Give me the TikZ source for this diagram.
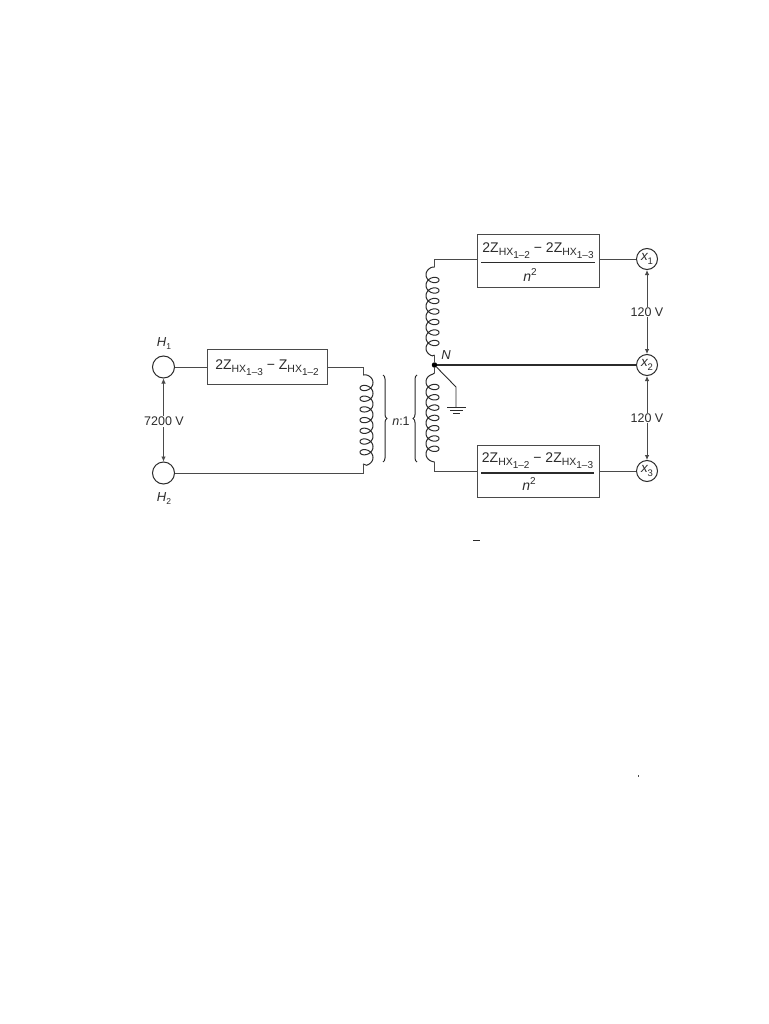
\documentclass[tikz,border=0pt]{standalone}
\usepackage{fontspec}
\setmainfont{Liberation Sans}
\usetikzlibrary{arrows.meta,decorations.pathreplacing}
\definecolor{ink}{HTML}{2B2B2B}
\definecolor{wire}{HTML}{4A4A4A}
\newcommand{\ZH}[1]{Z\raisebox{-3pt}{\fontsize{10.5}{11}\selectfont HX}\raisebox{-6pt}{\fontsize{10}{11}\selectfont #1}}
\newcommand{\xlab}[1]{\raisebox{-1pt}{\textit{x}\kern-0.5pt\raisebox{-3.5pt}{\fontsize{9.5}{10}\selectfont\upshape #1}}}
\tikzset{
  lbl/.style={text=ink,font=\fontsize{12.5}{14}\selectfont,inner sep=0pt},
  zlbl/.style={text=ink,font=\fontsize{14}{16}\selectfont,inner sep=0pt},
  wirel/.style={draw=wire,line width=0.9pt},
  term/.style={circle,draw=ink,line width=1pt,minimum size=#1,inner sep=0pt,text=ink,font=\fontsize{13.5}{15}\selectfont},
  imp/.style={draw=wire,line width=1pt,anchor=north west,inner sep=0pt},
  coilw/.style={draw=ink,line width=1pt},
  coilp/.style n args={4}{insert path={-- plot[domain=-90:2610,samples=300,smooth] ({#1+(#4)*6.5*cos(\x)},{#2+#3*((\x-180)/360)+5*sin(\x)})}},
  brc/.style={draw=ink,line width=1pt,decorate,decoration={brace,amplitude=4pt,raise=0pt}},
  volt/.style={draw=wire,line width=0.8pt,{Latex[length=5pt,width=4.5pt]}-{Latex[length=5pt,width=4.5pt]}},
  gnd/.style={draw=ink,line width=0.9pt}
}
\begin{document}
\begin{tikzpicture}[x=1pt,y=-1pt]
\useasboundingbox[fill=white] (0,0) rectangle (768,1024);
% terminals
\node[term=22pt] (H1) at (163.5,367) {};
\node[term=22pt] (H2) at (163.5,473) {};
\node[term=21pt] (X1) at (647,259) {\xlab{1}};
\node[term=21pt] (X2) at (647,365) {\xlab{2}};
\node[term=21pt] (X3) at (647,471) {\xlab{3}};
\node[lbl,font=\fontsize{13}{14}\selectfont\itshape] (LH1) at (164,344) {H\raisebox{-3pt}{\fontsize{8.5}{9}\selectfont\upshape 1}};
\node[lbl,font=\fontsize{13}{14}\selectfont\itshape] (LH2) at (164,499) {H\raisebox{-3pt}{\fontsize{8.5}{9}\selectfont\upshape 2}};
% impedance boxes
\node[imp,minimum width=120pt,minimum height=35pt] (ZP) at (207,349) {};
\node[zlbl] (ZPt) at (267,368) {2\ZH{1–3} − \ZH{1–2}};
\node[imp,minimum width=122pt,minimum height=53pt] (ZT) at (477,234) {};
\node[zlbl] (ZTn) at (538,251) {2\ZH{1–2} − 2\ZH{1–3}};
\node[zlbl] (ZTd) at (530,275) {\textit{n}\raisebox{5.5pt}{\fontsize{10}{11}\selectfont 2}};
\coordinate (FTa) at (481,262); \coordinate (FTb) at (595,262);
\draw[draw=ink,line width=0.9pt] (FTa) -- (FTb);
\node[imp,minimum width=121.5pt,minimum height=52pt] (ZB) at (477,445) {};
\node[zlbl] (ZBn) at (537.5,461) {2\ZH{1–2} − 2\ZH{1–3}};
\node[zlbl] (ZBd) at (529,484) {\textit{n}\raisebox{5.5pt}{\fontsize{10}{11}\selectfont 2}};
\coordinate (FBa) at (481,473); \coordinate (FBb) at (594,473);
\draw[draw=ink,line width=1.1pt] (FBa) -- (FBb);
% primary
\coordinate (PA) at (363,367); \coordinate (PB) at (363,375);
\coordinate (PC) at (363,464); \coordinate (PD) at (363,473);
\draw[wirel] (H1) -- (ZP.west |- H1);
\draw[wirel] (ZP.east |- H1) -- (PA) -- (PB);
\draw[coilw] (PB) [coilp={366.5}{388}{10.7}{1}] -- (PC);
\draw[wirel] (PC) -- (PD) -- (H2);
% secondary
\node[circle,fill=black,minimum size=5.5pt,inner sep=0pt] (N) at (434.5,365) {};
\node[lbl,font=\fontsize{13}{14}\selectfont\itshape] (LN) at (446,355) {N};
\coordinate (SA) at (434.5,259); \coordinate (SB) at (434.5,267);
\coordinate (SC) at (434.5,355);
\coordinate (SD) at (434.5,373); \coordinate (SE) at (434.5,462);
\coordinate (SF) at (434.5,471);
\draw[wirel] (X1) -- (ZT.east |- X1);
\draw[wirel] (ZT.west |- X1) -- (SA) -- (SB);
\draw[coilw] (SB) [coilp={432.5}{280}{10.5}{-1}] -- (SC);
\draw[wirel] (SC) -- (N) -- (SD);
\draw[coilw] (SD) [coilp={432.5}{387}{10.3}{-1}] -- (SE);
\draw[wirel] (SE) -- (SF) -- (ZB.west |- SF);
\draw[wirel] (ZB.east |- X3) -- (X3);
\draw[draw=ink,line width=1.7pt] (N) -- (X2);
% ground
\coordinate (GA) at (456,387); \coordinate (GB) at (456,407);
\draw[gnd] (N) -- (GA) -- (GB);
\coordinate (G1a) at (447,407); \coordinate (G1b) at (466,407);
\coordinate (G2a) at (450,410.5); \coordinate (G2b) at (463,410.5);
\coordinate (G3a) at (453,413.5); \coordinate (G3b) at (460,413.5);
\draw[gnd] (G1a) -- (G1b);
\draw[gnd] (G2a) -- (G2b);
\draw[gnd] (G3a) -- (G3b);
% braces
\coordinate (BLa) at (383,375); \coordinate (BLb) at (383,462);
\coordinate (BRa) at (417,462); \coordinate (BRb) at (417,375);
\draw[brc] (BLa) -- (BLb);
\draw[brc] (BRa) -- (BRb);
\node[lbl] (RATIO) at (401,421.5) {\textit{n}:1};
% voltages
\draw[volt] (H1) -- (H2);
\node[lbl,fill=white,inner ysep=1pt] (V1) at (164,421.5) {7200 V};
\draw[volt] (X1) -- (X2);
\node[lbl,fill=white,inner ysep=1pt] (V2) at (647,312) {120 V};
\draw[volt] (X2) -- (X3);
\node[lbl,fill=white,inner ysep=1pt] (V3) at (647,418) {120 V};
% stray marks printed in the picture
\coordinate (Da) at (473,540); \coordinate (Db) at (480,540);
\draw[draw=ink,line width=0.9pt] (Da) -- (Db);
\coordinate (Sa) at (638,775); \coordinate (Sb) at (638,776.5);
\draw[draw=wire,line width=0.7pt] (Sa) -- (Sb);
\end{tikzpicture}
\end{document}
